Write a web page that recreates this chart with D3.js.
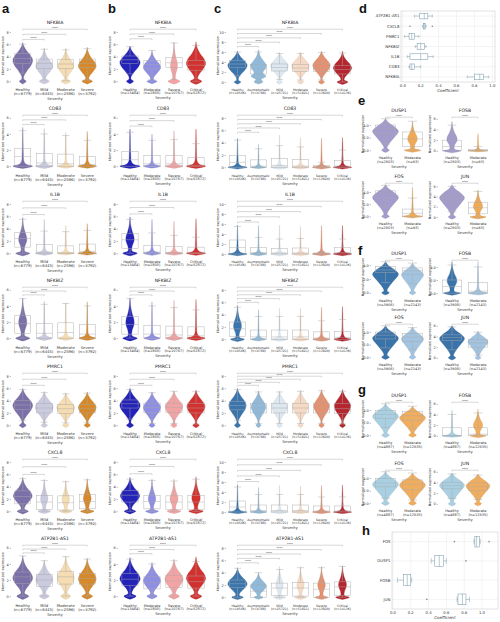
<!DOCTYPE html>
<html>
<head>
<meta charset="UTF-8">
<script src="https://d3js.org/d3.v7.min.js"></script>
<style>
  body { margin: 0; background: #fff; }
  svg { display: block; font-family: "DejaVu Sans", sans-serif; }
</style>
</head>
<body>
<svg width="500" height="622"></svg>
<script>
// ---------- data ----------
const genes = ["NFKBIA", "CD83", "IL1B", "NFKBIZ", "PMRC1", "CXCL8", "ATP2B1-AS1"];

const groupsA = ["Healthy", "Mild", "Moderate", "Severe"];
const countsA = ["(n=6779)", "(n=6445)", "(n=2596)", "(n=3792)"];
const colorsA = ["#7b70a8", "#cbcbe0", "#f5dcb2", "#d5892a"];

const groupsB = ["Healthy", "Moderate", "Severe", "Critical"];
const countsB = ["(n=13464)", "(n=1805)", "(n=10767)", "(n=52872)"];
const colorsB = ["#2323b8", "#8e8ee2", "#f2a4a4", "#d3312f"];

const groupsC = ["Healthy", "Asymptomatic", "Mild", "Moderate", "Severe", "Critical"];
const countsC = ["(n=10546)", "(n=4788)", "(n=25721)", "(n=51821)", "(n=13829)", "(n=14136)"];
const colorsC = ["#3b75ad", "#8fbad9", "#dde8f0", "#f6dac5", "#e5906f", "#b5262e"];

// violin outlines: [position along range, relative half width]
const DIA   = [[-0.07,0],[0,0.35],[0.06,0.1],[0.14,0.12],[0.28,0.45],[0.42,0.85],[0.55,1],[0.68,0.72],[0.8,0.35],[0.9,0.12],[1,0]];
const DIAB  = [[-0.08,0],[0,0.6],[0.07,0.18],[0.16,0.28],[0.3,0.7],[0.44,1],[0.56,0.85],[0.69,0.45],[0.81,0.18],[0.92,0.05],[1,0]];
const SPIKE = [[-0.06,0],[0,1],[0.05,0.35],[0.13,0.12],[0.28,0.07],[0.5,0.045],[0.7,0.03],[0.86,0.015],[1,0]];
const SPIN  = [[-0.07,0],[0,0.8],[0.06,0.22],[0.18,0.22],[0.35,0.45],[0.47,0.42],[0.62,0.22],[0.78,0.08],[1,0]];
const LUMP2 = [[-0.06,0],[0,0.5],[0.08,0.3],[0.18,0.85],[0.28,0.5],[0.42,0.8],[0.52,0.9],[0.64,0.6],[0.8,0.2],[1,0]];
const RH    = [[-0.07,0],[0,0.3],[0.07,0.12],[0.22,0.3],[0.42,0.7],[0.6,1],[0.74,0.7],[0.87,0.25],[1,0]];

// each violin: [outline, max, width, whiskerLow, q1, median, q3, whiskerHigh]
const violinsA = [
  [[DIA,6.3,1.0,1.3,2.9,3.7,4.5,6.0],[DIAB,5.4,0.85,0.2,2.1,2.9,3.6,5.2],[DIAB,5.4,0.8,0.1,2.1,2.8,3.5,5.1],[DIAB,5.5,0.9,0.2,2.2,2.9,3.6,5.3]],
  [[SPIKE,4.8,1.0,0,0,1.2,2.2,4.4],[SPIKE,4.7,0.9,0,0,0.4,1.6,4.0],[SPIKE,4.2,0.85,0,0,0.3,1.5,3.8],[SPIKE,4.3,0.95,0,0,0.2,1.2,3.2]],
  [[SPIN,5.8,0.9,0,1.0,2.4,3.4,5.5],[SPIKE,5.5,0.9,0,0,0.2,1.4,3.6],[SPIKE,4.5,0.9,0,0,0.1,1.2,3.5],[SPIKE,4.8,0.95,0,0,0.3,1.5,3.7]],
  [[SPIN,5.0,0.9,0,0.6,1.8,2.8,4.9],[SPIKE,4.6,0.8,0,0,0.6,1.8,4.2],[SPIKE,4.4,0.8,0,0,0.7,1.9,4.3],[SPIKE,4.5,0.85,0,0,0.5,1.7,4.0]],
  [[DIA,6.0,1.0,0.8,2.6,3.3,4.0,5.8],[DIA,5.5,0.9,0.5,2.0,2.8,3.5,5.3],[DIA,5.3,0.9,0.4,1.9,2.7,3.4,5.1],[DIA,5.4,0.9,0.4,2.0,2.7,3.4,5.2]],
  [[DIAB,5.5,0.95,0,1.2,2.4,3.3,5.3],[SPIN,5.2,0.8,0,0.3,1.5,2.6,5.0],[SPIN,5.0,0.8,0,0.2,1.4,2.5,4.8],[SPIN,5.3,0.85,0,0.4,1.6,2.7,5.1]],
  [[DIAB,5.0,1.0,0,1.6,2.4,3.0,5.0],[DIAB,4.5,0.85,0,1.2,2.0,2.7,4.4],[DIAB,5.0,0.85,0,1.5,2.4,3.1,4.9],[DIAB,4.7,0.9,0,1.5,2.2,2.8,4.6]]
];
const ticksA = [[0,2,4,6,8],[0,2,4,6],[0,2,4,6,8],[0,2,4,6],[0,2,4,6,8],[0,2,4,6,8],[0,2,4,6]];

const violinsB = [
  [[DIA,5.7,1.0,1.2,2.9,3.5,4.1,5.6],[DIAB,5.0,0.85,0.2,2.0,2.7,3.4,5.0],[SPIN,6.4,0.75,0.3,2.2,3.0,3.9,6.2],[DIAB,6.4,0.95,0,1.8,2.6,3.4,5.8]],
  [[SPIKE,4.6,1.0,0,0,0.8,1.8,4.2],[SPIKE,4.0,0.85,0,0,0.3,1.3,3.2],[SPIKE,4.4,0.9,0,0,0.3,1.3,3.3],[SPIKE,4.6,0.95,0,0,0.1,1.1,2.8]],
  [[SPIN,5.9,0.9,0,0.8,2.2,3.2,5.5],[SPIKE,5.5,0.85,0,0,0.2,1.3,3.3],[SPIKE,5.2,0.9,0,0,0.1,1.1,2.9],[SPIKE,5.6,0.95,0,0,0.1,1.0,2.6]],
  [[SPIN,5.0,0.9,0,0.5,1.7,2.7,4.9],[SPIKE,4.5,0.8,0,0,0.5,1.6,4.0],[SPIKE,4.7,0.85,0,0,0.4,1.5,3.8],[SPIKE,4.8,0.9,0,0,0.3,1.4,3.5]],
  [[DIA,6.0,1.0,1.0,2.8,3.5,4.1,5.8],[DIA,5.4,0.85,0.3,2.1,2.9,3.6,5.3],[DIA,5.6,0.85,0.3,2.1,2.9,3.6,5.5],[DIA,5.7,0.9,0.2,2.0,2.8,3.5,5.5]],
  [[DIAB,5.5,0.95,0,1.5,2.6,3.4,5.2],[SPIN,5.2,0.8,0,0.4,1.6,2.6,5.0],[SPIN,5.2,0.85,0,0.3,1.5,2.5,4.9],[SPIN,5.6,0.9,0,0.3,1.5,2.6,5.2]],
  [[DIAB,4.8,1.0,0,1.3,2.1,2.8,4.6],[DIAB,4.2,0.85,0,0.9,1.7,2.4,4.0],[DIAB,4.6,0.9,0,1.1,1.9,2.6,4.4],[DIAB,4.9,0.95,0,1.0,1.8,2.5,4.3]]
];
const ticksB = [[0,2,4,6,8],[0,2,4,6],[0,2,4,6,8],[0,2,4,6],[0,2,4,6,8],[0,2,4,6,8],[0,2,4,6]];

const violinsC = [
  [[DIA,6.2,1.0,1.2,2.9,3.6,4.3,6.0],[LUMP2,6.5,0.9,0,1.6,2.6,3.5,6.0],[DIA,6.0,0.9,0.5,2.2,2.9,3.6,5.7],[DIA,6.0,0.9,0.4,2.1,2.8,3.5,5.7],[DIA,6.2,0.9,0.4,2.1,2.8,3.6,5.9],[DIAB,6.2,0.95,0,1.6,2.5,3.3,5.8]],
  [[SPIKE,4.7,1.0,0,0,0.8,1.9,4.4],[SPIKE,3.7,0.8,0,0,0.2,1.2,3.0],[SPIKE,5.2,0.9,0,0,0.3,1.4,3.5],[SPIKE,4.8,0.9,0,0,0.2,1.3,3.3],[SPIKE,4.7,0.95,0,0,0,0.3,0.8],[SPIKE,4.8,0.95,0,0,0.2,1.1,2.8]],
  [[SPIKE,5.8,1.0,0,0,1.3,2.8,5.5],[SPIKE,5.7,0.85,0,0,0.3,1.3,3.3],[SPIKE,5.8,0.9,0,0,0.2,1.1,3.0],[SPIKE,5.5,0.9,0,0,0.2,1.2,3.1],[SPIKE,5.7,0.95,0,0,0,0.2,0.5],[SPIKE,5.7,0.95,0,0,0.3,1.3,3.0]],
  [[SPIN,5.5,0.9,0,0.5,1.7,2.8,5.2],[SPIKE,4.8,0.8,0,0,0.4,1.5,3.7],[SPIKE,5.0,0.85,0,0,0.4,1.5,3.7],[SPIKE,5.0,0.85,0,0,0.4,1.5,3.7],[SPIKE,5.2,0.9,0,0,0.2,1.2,3.0],[SPIKE,5.3,0.9,0,0,0.3,1.3,3.2]],
  [[DIA,6.0,0.9,0.8,2.5,3.2,3.9,5.8],[DIA,5.6,0.75,0.3,2.0,2.8,3.5,5.4],[DIA,5.6,0.8,0.3,2.0,2.8,3.5,5.4],[DIA,5.7,0.8,0.3,2.0,2.8,3.5,5.5],[DIA,5.8,0.8,0.3,2.0,2.8,3.6,5.6],[DIA,5.8,0.85,0.2,1.9,2.7,3.5,5.5]],
  [[SPIKE,5.5,1.0,0,0,1.0,2.2,5.0],[SPIKE,4.9,0.85,0,0,0.3,1.4,3.5],[SPIKE,5.3,0.9,0,0,0.3,1.4,3.5],[SPIKE,5.2,0.9,0,0,0.3,1.4,3.5],[SPIKE,5.3,0.95,0,0,0.2,1.2,3.0],[SPIKE,5.4,0.95,0,0,0.2,1.2,3.0]],
  [[DIAB,4.8,1.0,0,1.6,2.2,2.8,4.7],[DIAB,4.0,0.8,0,0,1.0,2.0,4.0],[SPIN,5.0,0.8,0,0.3,1.5,2.3,4.5],[SPIN,5.0,0.8,0,0.2,1.5,2.4,4.8],[SPIN,5.0,0.85,0,0,1.3,2.3,4.8],[SPIN,5.1,0.9,0,0.3,1.7,2.5,5.0]]
];
const ticksC = [[0,2,4,6,8,10],[0,2,4,6,8],[0,2,4,6,8,10],[0,2,4,6,8],[0,2,4,6,8],[0,2,4,6,8,10],[0,2,4,6,8]];

// panels e, f, g: DUSP1, FOSB, FOS, JUN
const pairGenes = ["DUSP1", "FOSB", "FOS", "JUN"];
const pairGroups = ["Healthy", "Moderate"];
const countsE = ["(n=2603)", "(n=93)"];
const colorsE = ["#a39bcb", "#f0aa55"];
const violinsE = [
  [[RH,5.0,1.0,1.0,2.6,3.4,4.0,5.0],[SPIN,4.6,0.8,0,0.6,1.8,2.9,4.6]],
  [[SPIN,5.5,0.9,0,0,0.8,2.0,4.8],[SPIKE,3.2,0.8,0,0,0,0.3,0.8]],
  [[RH,5.2,1.0,1.5,3.0,3.7,4.2,5.1],[SPIKE,4.8,0.8,0,0,0.5,1.2,3.0]],
  [[RH,6.3,1.0,1.0,3.0,3.7,4.3,6.0],[SPIN,5.3,0.8,0,0.6,1.8,2.9,5.0]]
];
const ticksE = [[0,2,4],[0,2,4,6],[0,2,4],[0,2,4,6]];

const countsF = ["(n=3906)", "(n=2143)"];
const colorsF = ["#3a73aa", "#a3c4e0"];
const violinsF = [
  [[RH,4.5,1.0,1.5,2.9,3.3,3.8,4.5],[RH,4.3,0.85,1.3,2.7,3.2,3.6,4.3]],
  [[SPIN,4.8,0.85,0,0,1.0,2.0,4.3],[SPIKE,4.8,0.8,0,0,0.3,1.6,4.0]],
  [[RH,5.0,1.0,1.5,2.9,3.5,4.0,5.0],[RH,4.8,0.85,1.2,2.5,3.2,3.8,4.7]],
  [[RH,6.0,1.0,1.5,3.2,3.8,4.3,5.8],[RH,5.0,0.8,0.5,2.0,2.8,3.4,4.8]]
];
const ticksF = [[0,2,4],[0,2,4],[0,2,4],[0,2,4,6]];

const countsG = ["(n=4887)", "(n=12635)"];
const colorsG = ["#a8d0e2", "#f0ad5e"];
const violinsG = [
  [[RH,5.0,1.0,1.2,2.7,3.3,3.9,5.0],[RH,4.6,1.0,1.0,2.4,3.1,3.8,4.6]],
  [[SPIKE,4.8,0.8,0,0,0,1.5,4.0],[SPIN,5.0,0.8,0,0,0.3,1.5,4.3]],
  [[RH,5.0,1.0,0.8,2.6,3.2,3.9,5.0],[RH,4.8,1.0,0.5,2.2,3.0,3.7,4.8]],
  [[RH,5.8,1.0,1.0,2.8,3.4,4.0,5.6],[RH,5.6,0.95,0.8,2.5,3.2,3.9,5.4]]
];
const ticksG = [[0,2,4],[0,2,4,6],[0,2,4],[0,2,4,6]];

// panel d / h coefficients: [whiskerLow, q1, median, q3, whiskerHigh]
const coefGenesD = ["ATP2B1-AS1", "CXCL8", "PMRC1", "NFKBIZ", "IL1B", "CD83", "NFKBIA"];
const coefD = [[0.13,0.19,0.24,0.28,0.33],[0.22,0.23,0.24,0.25,0.26],[0.02,0.07,0.1,0.13,0.18],[0.14,0.16,0.2,0.24,0.26],[0.05,0.08,0.2,0.28,0.34],[0.07,0.08,0.1,0.13,0.2],[0.72,0.8,0.86,0.9,0.96]];
const outD = [[],[0.08,0.33],[],[],[],[],[]];
const ticksD = [0, 0.2, 0.4, 0.6, 0.8, 1.0];

const coefGenesH = ["FOS", "DUSP1", "FOSB", "JUN"];
const coefH = [[0.91,0.92,0.94,0.97,0.98],[0.43,0.47,0.52,0.57,0.6],[0.05,0.12,0.16,0.2,0.21],[0.72,0.73,0.78,0.82,0.86]];
const outH = [[0.69,1.08],[0.82],[],[0.38]];
const ticksH = [0, 0.2, 0.4, 0.6, 0.8, 1.0];

// ---------- drawing ----------
const svg = d3.select("svg");
const gray = "#a9a9a9";

function violinPlot(g, o) {
  const x = d3.scaleBand().domain(o.groups).range([o.x0, o.x1]);
  const bw = x.bandwidth();
  const tmax = d3.max(o.ticks);
  const vmax = d3.max(o.data, d => d[1]);
  const top = o.pair ? Math.max(tmax, vmax) * 1.15 : tmax * 1.12;
  const y = d3.scaleLinear().domain([-0.6, top]).range([o.yBot, o.yTop]);

  // y axis
  const ax = g.append("g")
    .attr("transform", `translate(${o.x0 - 1},0)`)
    .call(d3.axisLeft(y).tickValues(o.ticks).tickSize(1.4).tickPadding(0.8));
  ax.attr("font-family", null).attr("font-size", null);
  ax.select(".domain").remove();
  ax.selectAll("line").attr("stroke", "#555").attr("stroke-width", 0.4);
  ax.selectAll("text").attr("font-size", 3.5).attr("fill", "#333");

  g.append("text")
    .attr("transform", `translate(${o.x0 - 8},${(o.yTop + o.yBot) / 2}) rotate(-90)`)
    .attr("text-anchor", "middle").attr("font-size", 3.4).attr("fill", "#333")
    .text("Normalized expression");

  g.append("text")
    .attr("x", (o.x0 + o.x1) / 2).attr("y", o.titleY)
    .attr("text-anchor", "middle").attr("font-size", 4.6).attr("fill", "#222")
    .text(o.title);

  const area = d3.area().curve(d3.curveCatmullRom);

  o.data.forEach((v, i) => {
    const [shape, vtop, w, lo, q1, med, q3, hi] = v;
    const cx = x(o.groups[i]) + bw / 2;
    const half = bw * o.vw * w;
    const c = o.colors[i];
    area.y(p => y(p[0] * vtop)).x0(p => cx - p[1] * half).x1(p => cx + p[1] * half);
    g.append("path").attr("d", area(shape))
      .attr("fill", c).attr("stroke", d3.color(c).darker(0.6)).attr("stroke-width", 0.3);

    // box overlay
    const bh = bw * 0.37, cap = bw * 0.17;
    g.append("rect")
      .attr("x", cx - bh).attr("width", bh * 2)
      .attr("y", y(q3)).attr("height", Math.max(0.4, y(q1) - y(q3)))
      .attr("fill", "none").attr("stroke", gray).attr("stroke-width", 0.45);
    g.append("line").attr("x1", cx - bh).attr("x2", cx + bh)
      .attr("y1", y(med)).attr("y2", y(med)).attr("stroke", gray).attr("stroke-width", 0.45);
    g.append("line").attr("x1", cx).attr("x2", cx)
      .attr("y1", y(q3)).attr("y2", y(hi)).attr("stroke", gray).attr("stroke-width", 0.45);
    g.append("line").attr("x1", cx - cap).attr("x2", cx + cap)
      .attr("y1", y(hi)).attr("y2", y(hi)).attr("stroke", gray).attr("stroke-width", 0.45);
    if (lo < q1) {
      g.append("line").attr("x1", cx).attr("x2", cx)
        .attr("y1", y(q1)).attr("y2", y(lo)).attr("stroke", gray).attr("stroke-width", 0.45);
      g.append("line").attr("x1", cx - cap).attr("x2", cx + cap)
        .attr("y1", y(lo)).attr("y2", y(lo)).attr("stroke", gray).attr("stroke-width", 0.45);
    }

    // tick labels
    g.append("text").attr("x", cx).attr("y", o.labY)
      .attr("text-anchor", "middle").attr("font-size", o.labFs).attr("fill", "#333")
      .text(o.groups[i]);
    g.append("text").attr("x", cx).attr("y", o.labY + o.labFs + 0.3)
      .attr("text-anchor", "middle").attr("font-size", o.labFs).attr("fill", "#333")
      .text(o.counts[i]);
  });

  g.append("text")
    .attr("x", (o.x0 + o.x1) / 2).attr("y", o.labY + 2 * o.labFs + 1.8)
    .attr("text-anchor", "middle").attr("font-size", 3.8).attr("fill", "#333")
    .text("Severity");

  // significance brackets: Healthy vs every other group
  const nb = o.groups.length - 1;
  const low = y(vmax) - 3;
  const high = o.yTop + 3.2;
  const step = nb > 1 ? (low - high) / (nb - 1) : 0;
  const c0 = x(o.groups[0]) + bw / 2;
  for (let k = 0; k < nb; k++) {
    const yb = nb > 1 ? low - k * step : high;
    const c1 = x(o.groups[k + 1]) + bw / 2;
    g.append("path")
      .attr("d", `M${c0},${yb + 1.2}V${yb}H${c1}V${yb + 1.2}`)
      .attr("fill", "none").attr("stroke", "#999").attr("stroke-width", 0.4);
    g.append("text").attr("x", (c0 + c1) / 2).attr("y", yb - 0.4)
      .attr("text-anchor", "middle").attr("font-size", 2.9).attr("fill", "#555")
      .text("****");
  }
}

// columns a, b, c
const rowH = 86;
const cols = [
  { x0: 12, x1: 98, groups: groupsA, counts: countsA, colors: colorsA, data: violinsA, ticks: ticksA, labFs: 3.8 },
  { x0: 119, x1: 207, groups: groupsB, counts: countsB, colors: colorsB, data: violinsB, ticks: ticksB, labFs: 3.5 },
  { x0: 227, x1: 353, groups: groupsC, counts: countsC, colors: colorsC, data: violinsC, ticks: ticksC, labFs: 3.15 }
];
cols.forEach(col => {
  genes.forEach((gene, r) => {
    const oy = r * rowH;
    violinPlot(svg.append("g"), {
      x0: col.x0, x1: col.x1, groups: col.groups, counts: col.counts, colors: col.colors,
      data: col.data[r], ticks: col.ticks[r], labFs: col.labFs, title: gene, vw: 0.46,
      titleY: 23.5 + oy, yTop: 26 + oy, yBot: 85 + oy, labY: 90.5 + oy
    });
  });
});

// panels e, f, g
const pairX = [[372, 426], [439, 491]];
const pairPanels = [
  { top: 110, second: 66, counts: countsE, colors: colorsE, data: violinsE, ticks: ticksE },
  { top: 253, second: 64, counts: countsF, colors: colorsF, data: violinsF, ticks: ticksF },
  { top: 395, second: 68, counts: countsG, colors: colorsG, data: violinsG, ticks: ticksG }
];
pairPanels.forEach(p => {
  pairGenes.forEach((gene, k) => {
    const t = p.top + (k > 1 ? p.second : 0);
    const [x0, x1] = pairX[k % 2];
    violinPlot(svg.append("g"), {
      x0, x1, groups: pairGroups, counts: p.counts, colors: p.colors,
      data: p.data[k], ticks: p.ticks[k], labFs: 3.5, title: gene, pair: true, vw: 0.48,
      titleY: t + 1.5, yTop: t + 4, yBot: t + 44, labY: t + 49
    });
  });
});

// panels d and h
function coefPlot(g, o) {
  const x = d3.scaleLinear().domain(o.domain).range([o.x0, o.x1]);
  const y = d3.scaleBand().domain(o.cats).range([o.y0, o.y1]);
  const bw = y.bandwidth();
  const line = "#6f93a6";

  g.selectAll(".vg").data(o.ticks).join("line")
    .attr("x1", d => x(d)).attr("x2", d => x(d)).attr("y1", o.y0).attr("y2", o.y1)
    .attr("stroke", "#e4e4e4").attr("stroke-width", 0.4);
  g.selectAll(".hg").data(o.cats).join("line")
    .attr("x1", o.x0).attr("x2", o.x1)
    .attr("y1", d => y(d) + bw / 2).attr("y2", d => y(d) + bw / 2)
    .attr("stroke", "#e4e4e4").attr("stroke-width", 0.4);
  g.append("rect").attr("x", o.x0).attr("y", o.y0)
    .attr("width", o.x1 - o.x0).attr("height", o.y1 - o.y0)
    .attr("fill", "none").attr("stroke", "#bbb").attr("stroke-width", 0.4);

  o.stats.forEach((s, i) => {
    const [lo, q1, med, q3, hi] = s;
    const cy = y(o.cats[i]) + bw / 2;
    const h = bw * 0.28;
    g.append("line").attr("x1", x(lo)).attr("x2", x(q1)).attr("y1", cy).attr("y2", cy)
      .attr("stroke", line).attr("stroke-width", 0.45);
    g.append("line").attr("x1", x(q3)).attr("x2", x(hi)).attr("y1", cy).attr("y2", cy)
      .attr("stroke", line).attr("stroke-width", 0.45);
    [lo, hi].forEach(v => g.append("line").attr("x1", x(v)).attr("x2", x(v))
      .attr("y1", cy - h / 2).attr("y2", cy + h / 2).attr("stroke", line).attr("stroke-width", 0.45));
    g.append("rect").attr("x", x(q1)).attr("width", x(q3) - x(q1))
      .attr("y", cy - h).attr("height", 2 * h)
      .attr("fill", "#fff").attr("stroke", line).attr("stroke-width", 0.5);
    g.append("line").attr("x1", x(med)).attr("x2", x(med)).attr("y1", cy - h).attr("y2", cy + h)
      .attr("stroke", line).attr("stroke-width", 0.5);
    o.outs[i].forEach(v => g.append("circle").attr("cx", x(v)).attr("cy", cy).attr("r", 0.8)
      .attr("fill", "#8a8a8a"));
    g.append("text").attr("x", o.x0 - 1.5).attr("y", cy + 1.4)
      .attr("text-anchor", "end").attr("font-size", 3.9).attr("fill", "#333")
      .text(o.cats[i]);
  });

  g.selectAll(".tl").data(o.ticks).join("text")
    .attr("x", d => x(d)).attr("y", o.y1 + 4.5)
    .attr("text-anchor", "middle").attr("font-size", 3.8).attr("fill", "#333")
    .text(d => d.toFixed(1));
  g.append("text").attr("x", (o.x0 + o.x1) / 2).attr("y", o.y1 + 9.5)
    .attr("text-anchor", "middle").attr("font-size", 4).attr("fill", "#333")
    .text("Coefficient");
}

coefPlot(svg.append("g"), { x0: 401, x1: 495, y0: 11, y1: 82, domain: [-0.02, 1.03],
  cats: coefGenesD, stats: coefD, outs: outD, ticks: ticksD });
coefPlot(svg.append("g"), { x0: 392, x1: 498, y0: 532, y1: 609, domain: [-0.011, 1.18],
  cats: coefGenesH, stats: coefH, outs: outH, ticks: ticksH });

// panel letters
const letters = [["a", 2, 13], ["b", 108, 13], ["c", 214, 13], ["d", 359, 13],
                 ["e", 358, 105], ["f", 358, 255], ["g", 358, 394], ["h", 362, 535]];
svg.selectAll(".letter").data(letters).join("text")
  .attr("x", d => d[1]).attr("y", d => d[2])
  .attr("font-family", "Liberation Sans, Arial, sans-serif")
  .attr("font-weight", "bold").attr("font-size", 13).attr("fill", "#111")
  .text(d => d[0]);
</script>
</body>
</html>
